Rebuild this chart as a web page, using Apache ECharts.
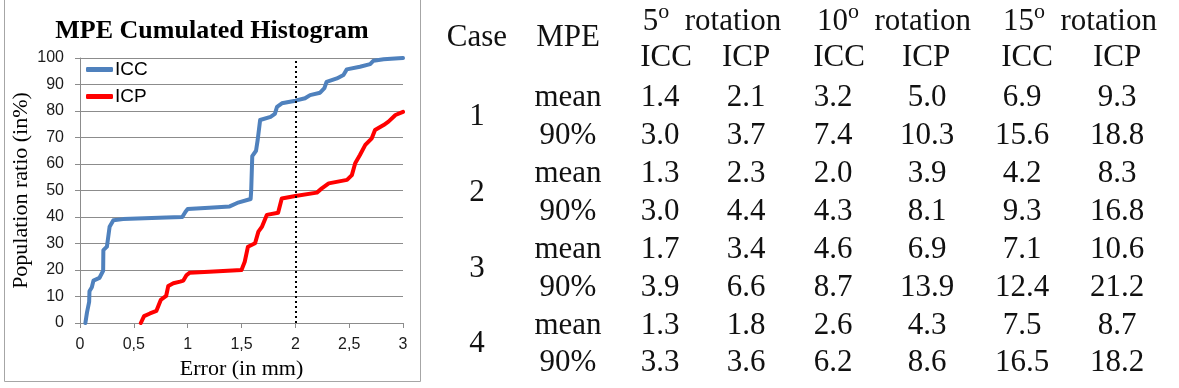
<!doctype html>
<html>
<head>
<meta charset="utf-8">
<title>MPE Cumulated Histogram</title>
<style>
html, body { margin: 0; padding: 0; background: #fff; }
#main { width: 1179px; height: 388px; }
</style>
</head>
<body>
<div id="main"></div>
<script src="https://cdn.jsdelivr.net/npm/echarts@6/dist/echarts.min.js"></script>
<script>
// cumulated histogram
var iccError = [0.05, 0.065, 0.085, 0.088, 0.11, 0.125, 0.18, 0.215, 0.217, 0.25, 0.275, 0.31, 0.4, 0.6, 0.8, 0.95, 0.98, 1.0, 1.2, 1.39, 1.46, 1.585, 1.59, 1.6, 1.635, 1.65, 1.673, 1.77, 1.81, 1.83, 1.875, 2.0, 2.09, 2.137, 2.23, 2.27, 2.29, 2.386, 2.447, 2.478, 2.6, 2.695, 2.726, 2.82, 2.96, 3.0];
var iccRatio = [0, 4, 8, 12, 13.5, 16, 17, 19.7, 27.5, 28.8, 36.3, 38.8, 39.2, 39.5, 39.8, 40, 42, 43, 43.5, 44, 45.3, 46.8, 50, 63, 65, 69, 76.6, 77.8, 78.9, 81.6, 82.9, 83.9, 84.8, 86, 86.9, 88.6, 91, 92.3, 93.6, 95.7, 96.7, 97.7, 99, 99.5, 99.9, 100];
var icpError = [0.565, 0.595, 0.65, 0.71, 0.75, 0.8, 0.82, 0.867, 0.93, 0.96, 0.99, 1.02, 1.2, 1.5, 1.53, 1.56, 1.626, 1.657, 1.69, 1.735, 1.84, 1.874, 2.0, 2.2, 2.246, 2.31, 2.48, 2.525, 2.556, 2.6, 2.65, 2.71, 2.74, 2.82, 2.865, 2.93, 3.0];
var icpRatio = [0, 2.6, 3.6, 4.6, 8.7, 10.2, 14, 15, 15.6, 16, 18.1, 19, 19.3, 20, 23.1, 28.8, 30.1, 34.5, 36.3, 40.8, 41.6, 47, 47.9, 49.2, 50.8, 52.7, 54, 55.8, 60.3, 63.4, 67.2, 69.7, 72.8, 74.7, 76, 78.5, 79.7];
var thresholdError = 2;

// table
var caseNames = ['1', '2', '3', '4'];
var statNames = ['mean', '90%'];
var rotations = ['5', '10', '15'];
var methods = ['ICC', 'ICP'];
var case1 = [[1.4, 2.1, 3.2, 5.0, 6.9, 9.3], [3.0, 3.7, 7.4, 10.3, 15.6, 18.8]];
var case2 = [[1.3, 2.3, 2.0, 3.9, 4.2, 8.3], [3.0, 4.4, 4.3, 8.1, 9.3, 16.8]];
var case3 = [[1.7, 3.4, 4.6, 6.9, 7.1, 10.6], [3.9, 6.6, 8.7, 13.9, 12.4, 21.2]];
var case4 = [[1.3, 1.8, 2.6, 4.3, 7.5, 8.7], [3.3, 3.6, 6.2, 8.6, 16.5, 18.2]];
var caseValues = [case1, case2, case3, case4];

function zip(xs, ys) {
    return xs.map(function (x, i) { return [x, ys[i]]; });
}

var serif = 'Liberation Serif';
var sans = 'Liberation Sans';
var tableFont = 31;
var ink = '#111';

// table layout
var valueX = [660, 746, 833, 927, 1022, 1117];
var methodX = [666, 746, 839, 926, 1027, 1117];
var rotationX = [712, 894, 1080];
var caseX = 477, statX = 568;
var firstRowY = 98, rowStep = 37.9;

function txt(x, y, s) {
    return {
        type: 'text', x: x, y: y, silent: true,
        style: {
            text: s, fontFamily: serif, fontSize: tableFont, fill: ink,
            align: 'center', verticalAlign: 'middle'
        }
    };
}

var table = [];
table.push(txt(caseX, 38, 'Case'));
table.push(txt(statX, 38, 'MPE'));
rotations.forEach(function (r, i) {
    table.push({
        type: 'text', x: rotationX[i], y: 22, silent: true,
        style: {
            text: '{n|' + r + '}{s|o}{n|  rotation}',
            align: 'center', verticalAlign: 'middle', fill: ink,
            rich: {
                n: { fontFamily: serif, fontSize: tableFont, lineHeight: 42, fill: ink },
                s: { fontFamily: serif, fontSize: 22, lineHeight: 22, verticalAlign: 'top', fill: ink }
            }
        }
    });
    methods.forEach(function (m, j) {
        table.push(txt(methodX[i * 2 + j], 58, m));
    });
});
caseValues.forEach(function (rows, c) {
    var y0 = firstRowY + c * 2 * rowStep;
    table.push(txt(caseX, y0 + rowStep / 2, caseNames[c]));
    rows.forEach(function (vals, r) {
        var y = y0 + r * rowStep;
        table.push(txt(statX, y, statNames[r]));
        vals.forEach(function (v, k) {
            table.push(txt(valueX[k], y, v.toFixed(1)));
        });
    });
});

table.push({
    type: 'rect', silent: true, z: -1,
    shape: { x: 4.5, y: -1, width: 416, height: 382.5 },
    style: { fill: 'none', stroke: '#a6a6a6', lineWidth: 1 }
});

var gridColor = '#8c8c8c';
var chart = echarts.init(document.getElementById('main'));

chart.setOption({
    animation: false,
    title: {
        text: 'MPE Cumulated Histogram',
        left: 207, top: 13, textAlign: 'center',
        textStyle: { fontFamily: serif, fontWeight: 'bold', fontSize: 26, color: '#000' }
    },
    legend: {
        orient: 'vertical', left: 81, top: 55,
        itemWidth: 27, itemHeight: 5, itemGap: 8,
        icon: 'roundRect',
        textStyle: { fontFamily: sans, fontSize: 19, color: '#000', padding: [0, 0, 0, -3] },
        data: ['ICC', 'ICP']
    },
    grid: { left: 80, right: 776, top: 58, bottom: 65 },
    xAxis: {
        type: 'value', min: 0, max: 3, interval: 0.5,
        name: 'Error (in mm)', nameLocation: 'middle', nameGap: 32,
        nameTextStyle: { fontFamily: serif, fontSize: 22, color: '#000' },
        axisLine: { show: true, lineStyle: { color: gridColor } },
        axisTick: { show: true, length: 5, lineStyle: { color: gridColor } },
        splitLine: { show: false },
        axisLabel: {
            fontFamily: sans, fontSize: 16, color: '#1a1a1a', margin: 14,
            formatter: function (v) { return String(v).replace('.', ','); }
        }
    },
    yAxis: {
        type: 'value', min: 0, max: 100, interval: 10,
        name: 'Population ratio (in%)', nameLocation: 'middle', nameGap: 48,
        nameTextStyle: { fontFamily: serif, fontSize: 22, color: '#000' },
        axisLine: { show: true, lineStyle: { color: gridColor } },
        axisTick: { show: true, length: 5, lineStyle: { color: gridColor } },
        splitLine: { show: true, lineStyle: { color: gridColor } },
        axisLabel: { fontFamily: sans, fontSize: 16, color: '#1a1a1a', margin: 16 }
    },
    series: [{
        name: 'ICC', type: 'line', symbol: 'none', z: 3,
        data: zip(iccError, iccRatio),
        itemStyle: { color: '#4f81bd' },
        lineStyle: { width: 4, color: '#4f81bd', cap: 'round', join: 'round' },
        markLine: {
            silent: true, symbol: 'none', label: { show: false },
            lineStyle: { color: '#000', width: 2, type: [2, 3] },
            data: [{ xAxis: thresholdError }]
        }
    }, {
        name: 'ICP', type: 'line', symbol: 'none', z: 3,
        data: zip(icpError, icpRatio),
        itemStyle: { color: '#ff0000' },
        lineStyle: { width: 4, color: '#ff0000', cap: 'round', join: 'round' }
    }],
    graphic: table
});

window.addEventListener('resize', function () {
    chart.resize();
});
</script>
</body>
</html>
